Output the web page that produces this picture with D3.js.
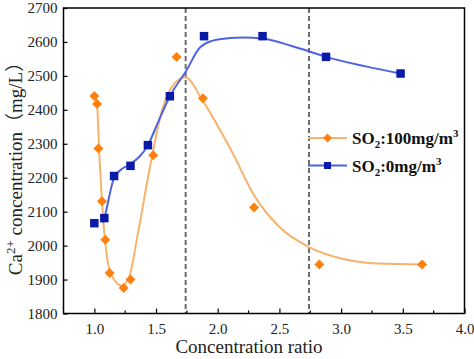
<!DOCTYPE html>
<html><head><meta charset="utf-8">
<script src="https://cdn.jsdelivr.net/npm/d3@7"></script>
<style>body{margin:0;background:#fff}svg{display:block}</style>
</head><body>
<svg id="c" width="474" height="359"></svg>
<script>
// Measured points
const orangeX = [1.00, 1.022, 1.033, 1.062, 1.089, 1.124, 1.238, 1.293, 1.477, 1.667, 1.88, 2.295, 2.824, 3.656];
const orangeY = [2441, 2417, 2286, 2131, 2017, 1919, 1875, 1900, 2266, 2556, 2434, 2112, 1944, 1944];
const blueX = [1.00, 1.081, 1.16, 1.293, 1.434, 1.612, 1.889, 2.363, 2.878, 3.482];
const blueY = [2066, 2081, 2205, 2235, 2296, 2440, 2617, 2617, 2556, 2507];
// Fitted curves
const orangeFitX = [1.00, 1.022, 1.04, 1.06, 1.08, 1.11, 1.16, 1.22, 1.28, 1.35, 1.45, 1.55, 1.65, 1.74, 1.876, 2.106, 2.30, 2.50, 2.743, 3.0, 3.3, 3.656];
const orangeFitY = [2441, 2415, 2270, 2140, 2040, 1950, 1900, 1882, 1905, 2030, 2230, 2400, 2478, 2495, 2428, 2283, 2145, 2055, 1995, 1962, 1947, 1944];
const blueFitX = [1.07, 1.081, 1.16, 1.22, 1.293, 1.434, 1.523, 1.612, 1.74, 1.86, 2.0, 2.2, 2.363, 2.6, 2.743, 2.878, 3.2, 3.482];
const blueFitY = [2068, 2081, 2200, 2225, 2240, 2296, 2369, 2440, 2512, 2585, 2607, 2613, 2610, 2588, 2572, 2556, 2528, 2507];
const dashX = [1.74, 2.74];
const xTicks = [1.0, 1.5, 2.0, 2.5, 3.0, 3.5, 4.0];
const xMinor = [1.25, 1.75, 2.25, 2.75, 3.25, 3.75];
const yTicks = [1800, 1900, 2000, 2100, 2200, 2300, 2400, 2500, 2600, 2700];
const seriesNames = ["SO2:100mg/m3", "SO2:0mg/m3"];

const svg = d3.select("#c");
const x = d3.scaleLinear().domain([0.75, 4.0]).range([63.5, 464.5]);
const y = d3.scaleLinear().domain([1800, 2700]).range([313.5, 8]);
const FONT = "'Liberation Serif','Times New Roman',serif";
const cOrM = "#ff800d", cOrL = "#f6b36c", cBlM = "#0a1aa8", cBlL = "#4d63e4";

// dashed lines
svg.selectAll(".dash").data(dashX).enter().append("line")
  .attr("x1", d => x(d)).attr("x2", d => x(d)).attr("y1", y(2700)).attr("y2", y(1800))
  .attr("stroke", "#6b6b6b").attr("stroke-width", 2).attr("stroke-dasharray", "5,3");

const line = d3.line().x(d => x(d[0])).y(d => y(d[1])).curve(d3.curveMonotoneX);
svg.append("path").attr("d", line(orangeFitX.map((v, i) => [v, orangeFitY[i]])))
  .attr("fill", "none").attr("stroke", cOrL).attr("stroke-width", 2);
svg.append("path").attr("d", line(blueFitX.map((v, i) => [v, blueFitY[i]])))
  .attr("fill", "none").attr("stroke", cBlL).attr("stroke-width", 2);

const diamond = d3.symbol().type(d3.symbolSquare).size(50);
svg.selectAll(".od").data(orangeX.map((v, i) => [v, orangeY[i]])).enter().append("path")
  .attr("d", diamond).attr("transform", d => `translate(${x(d[0])},${y(d[1])}) rotate(45)`)
  .attr("fill", cOrM);
const sq = d3.symbol().type(d3.symbolSquare).size(72);
svg.selectAll(".bs").data(blueX.map((v, i) => [v, blueY[i]])).enter().append("path")
  .attr("d", sq).attr("transform", d => `translate(${x(d[0])},${y(d[1])})`)
  .attr("fill", cBlM);

// frame
svg.append("rect").attr("x", 63.5).attr("y", 8).attr("width", 401).attr("height", 305.5)
  .attr("fill", "none").attr("stroke", "#000").attr("stroke-width", 1.5);

// axes
const xAxis = svg.append("g").attr("transform", "translate(0,313.5)")
  .call(d3.axisBottom(x).tickValues(xTicks).tickFormat(d3.format(".1f")).tickSizeInner(-5).tickSizeOuter(0));
xAxis.select(".domain").remove();
xAxis.selectAll("text").attr("y", 10).attr("dy", "0.71em");
svg.append("g").attr("transform", "translate(0,313.5)")
  .selectAll("line").data(xMinor).enter().append("line")
  .attr("x1", d => x(d)).attr("x2", d => x(d)).attr("y1", 0).attr("y2", -3)
  .attr("stroke", "#000").attr("stroke-width", 1.2);
const yAxis = svg.append("g").attr("transform", "translate(63.5,0)")
  .call(d3.axisLeft(y).tickValues(yTicks).tickFormat(d3.format("d")).tickSizeInner(-4).tickSizeOuter(0));
yAxis.select(".domain").remove();
yAxis.selectAll("text").attr("x", -6);
svg.selectAll(".tick line").attr("stroke-width", 1.2);
svg.selectAll(".tick text").attr("font-family", FONT).attr("font-size", 15).attr("fill", "#222");

// axis titles
svg.append("text").attr("x", 249).attr("y", 353).attr("text-anchor", "middle")
  .attr("font-family", FONT).attr("font-size", 19).attr("fill", "#222").text("Concentration ratio");
const yt = svg.append("text").attr("transform", "translate(22,164) rotate(-90)").attr("text-anchor", "middle")
  .attr("font-family", FONT + ",'Noto Sans CJK SC'").attr("font-size", 19).attr("fill", "#222");
yt.append("tspan").text("Ca");
yt.append("tspan").attr("dy", -7).attr("font-size", 13).text("2+");
yt.append("tspan").attr("dy", 7).text(" concentration（mg/L）");

// legend
const leg = [[cOrL, cOrM, "d", 138], [cBlL, cBlM, "s", 165.5]];
leg.forEach((l, i) => {
  const g = svg.append("g");
  g.append("line").attr("x1", 308).attr("x2", 347).attr("y1", l[3]).attr("y2", l[3]).attr("stroke", l[0]).attr("stroke-width", 2);
  if (l[2] === "d") g.append("path").attr("d", d3.symbol().type(d3.symbolSquare).size(40)).attr("transform", `translate(327.5,${l[3]}) rotate(45)`).attr("fill", l[1]);
  else g.append("path").attr("d", d3.symbol().type(d3.symbolSquare).size(50)).attr("transform", `translate(327.5,${l[3]})`).attr("fill", l[1]);
  const t = g.append("text").attr("x", 352).attr("y", l[3] + 6).attr("font-family", FONT).attr("font-size", 17).attr("font-weight", "bold").attr("fill", "#111");
  const name = seriesNames[i];
  const rest = name.slice(3, name.length - 1);
  t.append("tspan").text("SO");
  t.append("tspan").attr("dy", 4).attr("font-size", 11).text("2");
  t.append("tspan").attr("dy", -4).text(rest);
  t.append("tspan").attr("dy", -7).attr("font-size", 11).text("3");
});
</script>
</body></html>
